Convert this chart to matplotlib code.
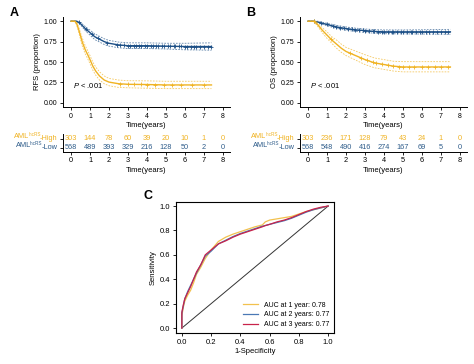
import matplotlib
matplotlib.use('Agg')
import matplotlib.pyplot as plt
import numpy as np

plt.rcParams['font.family'] = ['Liberation Sans', 'DejaVu Sans']
plt.rcParams['mathtext.fontset'] = 'custom'
plt.rcParams['mathtext.rm'] = 'Liberation Sans'
plt.rcParams['mathtext.it'] = 'Liberation Sans:italic'

YELLOW = '#F0B323'
BLUE = '#1C4F86'
TBLUE = '#2E5C8A'

# --- A: RFS ---
t_rfs_high = [0, 0.2, 0.3, 0.4, 0.5, 0.6, 0.75, 0.9, 1.0, 1.15, 1.3, 1.5, 1.75, 2.0, 2.5, 3.0, 4.0, 5.0, 6.0, 7.4]
s_rfs_high = [1.0, 1.0, 0.97, 0.9, 0.82, 0.74, 0.65, 0.58, 0.53, 0.45, 0.39, 0.33, 0.28, 0.255, 0.235, 0.228, 0.225, 0.22, 0.22, 0.22]
hi_rfs_high = [1.0, 1.0, 0.99, 0.93, 0.86, 0.79, 0.70, 0.63, 0.58, 0.50, 0.44, 0.38, 0.33, 0.30, 0.28, 0.272, 0.27, 0.265, 0.265, 0.265]
lo_rfs_high = [1.0, 1.0, 0.95, 0.87, 0.78, 0.69, 0.60, 0.53, 0.48, 0.40, 0.34, 0.28, 0.235, 0.21, 0.19, 0.185, 0.18, 0.175, 0.175, 0.175]
cens_rfs_high = [2.6, 3.0, 3.3, 3.7, 4.0, 4.4, 4.9, 5.3, 5.8, 6.4, 7.0]

t_rfs_low = [0, 0.3, 0.5, 0.75, 1.0, 1.25, 1.5, 1.75, 2.0, 2.5, 3.0, 4.0, 5.0, 6.0, 7.4]
s_rfs_low = [1.0, 1.0, 0.97, 0.91, 0.86, 0.81, 0.78, 0.75, 0.73, 0.71, 0.70, 0.70, 0.695, 0.69, 0.69]
hi_rfs_low = [1.0, 1.0, 0.985, 0.935, 0.89, 0.845, 0.815, 0.785, 0.765, 0.745, 0.735, 0.735, 0.73, 0.73, 0.735]
lo_rfs_low = [1.0, 1.0, 0.955, 0.885, 0.83, 0.775, 0.745, 0.715, 0.695, 0.675, 0.665, 0.665, 0.66, 0.65, 0.645]
cens_rfs_low = [0.4, 0.8, 1.1, 1.4, 1.9, 2.4, 2.6, 2.8, 3.0, 3.1, 3.3, 3.4, 3.6, 3.7, 3.9, 4.0, 4.2, 4.3, 4.5,
                4.6, 4.8, 4.9, 5.1, 5.2, 5.4, 5.5, 5.7, 5.8, 6.0, 6.1, 6.3, 6.5, 6.6, 6.8, 7.0, 7.2, 7.4]

risk_rfs_high = [303, 144, 78, 60, 39, 20, 10, 1, 0]
risk_rfs_low = [568, 489, 393, 329, 216, 128, 50, 2, 0]

# --- B: OS ---
t_os_high = [0, 0.3, 0.5, 0.75, 1.0, 1.25, 1.5, 1.75, 2.0, 2.5, 3.0, 3.5, 4.0, 4.5, 5.0, 6.0, 7.5]
s_os_high = [1.0, 1.0, 0.96, 0.89, 0.83, 0.77, 0.72, 0.67, 0.63, 0.58, 0.53, 0.49, 0.47, 0.45, 0.44, 0.44, 0.44]
hi_os_high = [1.0, 1.0, 0.98, 0.92, 0.87, 0.81, 0.77, 0.72, 0.68, 0.635, 0.59, 0.55, 0.53, 0.51, 0.505, 0.505, 0.505]
lo_os_high = [1.0, 1.0, 0.94, 0.86, 0.79, 0.73, 0.67, 0.62, 0.58, 0.525, 0.47, 0.43, 0.41, 0.39, 0.38, 0.38, 0.38]
cens_os_high = [0.3, 1.2, 2.2, 2.8, 3.1, 3.4, 3.6, 3.9, 4.2, 4.5, 4.8, 5.0, 5.3, 5.6, 6.0, 6.3, 6.7, 7.0, 7.4]

t_os_low = [0, 0.3, 0.5, 1.0, 1.5, 2.0, 2.5, 3.0, 3.5, 4.0, 5.0, 6.0, 7.5]
s_os_low = [1.0, 1.0, 0.99, 0.96, 0.93, 0.91, 0.895, 0.885, 0.875, 0.87, 0.87, 0.87, 0.87]
hi_os_low = [1.0, 1.0, 1.0, 0.975, 0.95, 0.93, 0.915, 0.905, 0.897, 0.893, 0.893, 0.895, 0.9]
lo_os_low = [1.0, 1.0, 0.98, 0.945, 0.91, 0.89, 0.875, 0.863, 0.853, 0.847, 0.845, 0.843, 0.84]
cens_os_low = [0.3, 0.7, 1.0, 1.3, 1.5, 1.7, 1.9, 2.1, 2.3, 2.5, 2.7, 2.9, 3.0, 3.2, 3.4, 3.5, 3.7, 3.9, 4.0,
               4.2, 4.4, 4.5, 4.7, 4.9, 5.0, 5.2, 5.4, 5.5, 5.7, 5.9, 6.0, 6.2, 6.4, 6.6, 6.8, 7.0, 7.2, 7.4]

risk_os_high = [303, 236, 171, 128, 79, 43, 24, 1, 0]
risk_os_low = [568, 548, 490, 416, 274, 167, 69, 5, 0]

risk_times = [0, 1, 2, 3, 4, 5, 6, 7, 8]
group_names = ['-Low', '-High']

# --- C: time-dependent ROC ---
fpr = [0, 0.0, 0.01, 0.02, 0.04, 0.06, 0.08, 0.1, 0.13, 0.16, 0.2, 0.25, 0.3, 0.35, 0.4, 0.45, 0.5,
       0.55, 0.57, 0.6, 0.65, 0.7, 0.75, 0.8, 0.85, 0.9, 0.95, 1.0]
tpr_1y = [0, 0.1, 0.17, 0.22, 0.27, 0.31, 0.37, 0.44, 0.5, 0.57, 0.64, 0.71, 0.745, 0.77, 0.79, 0.81, 0.83,
          0.845, 0.87, 0.885, 0.895, 0.905, 0.915, 0.935, 0.955, 0.97, 0.985, 1.0]
tpr_2y = [0, 0.12, 0.18, 0.24, 0.3, 0.35, 0.4, 0.45, 0.52, 0.59, 0.63, 0.69, 0.72, 0.75, 0.775, 0.795, 0.815,
          0.835, 0.84, 0.85, 0.865, 0.88, 0.9, 0.925, 0.95, 0.97, 0.985, 1.0]
tpr_3y = [0, 0.13, 0.19, 0.24, 0.29, 0.34, 0.4, 0.46, 0.52, 0.6, 0.64, 0.69, 0.715, 0.745, 0.77, 0.79, 0.81,
          0.83, 0.84, 0.85, 0.87, 0.885, 0.905, 0.93, 0.955, 0.975, 0.99, 1.0]
roc_labels = ['AUC at 1 year: 0.78', 'AUC at 2 years: 0.77', 'AUC at 3 years: 0.77']
roc_colors = ['#F2C14E', '#4A78B5', '#C8234A']

fig = plt.figure(figsize=(4.74, 3.64), dpi=100)


def km_panel(left, right, letter, ylabel, curves):
    ax = fig.add_axes([left, 0.706, right - left, 0.247])
    for t, s, hi, lo, cens, col in curves:
        ax.plot(t, hi, color=col, lw=0.6, ls=(0, (2, 1.5)), alpha=0.7)
        ax.plot(t, lo, color=col, lw=0.6, ls=(0, (2, 1.5)), alpha=0.7)
        ax.plot(t, s, color=col, lw=1.0)
        ax.plot(cens, np.interp(cens, t, s), '+', color=col, ms=3, mew=0.6)
    ax.set_xlim(-0.42, 8.37)
    ax.set_ylim(-0.05, 1.05)
    ax.set_xticks(range(9))
    ax.set_yticks([0, 0.25, 0.5, 0.75, 1.0])
    ax.set_yticklabels(['0.00', '0.25', '0.50', '0.75', '1.00'])
    ax.tick_params(labelsize=5, length=2, width=0.6, pad=2)
    for s in ['top', 'right']:
        ax.spines[s].set_visible(False)
    for s in ['left', 'bottom']:
        ax.spines[s].set_linewidth(0.7)
    ax.set_ylabel(ylabel, fontsize=5.5, labelpad=2)
    ax.set_xlabel('Time(years)', fontsize=5.5, labelpad=1.5)
    ax.text(0.1, 0.18, r'$P$ < .001', fontsize=5.5)
    fig.text(left - 0.113, 0.965, letter, fontsize=9, fontweight='bold', va='center')
    return ax


def risk_table(left, right, high, low):
    ax = fig.add_axes([left, 0.582, right - left, 0.05])
    for i, (h, l) in enumerate(zip(high, low)):
        ax.text(risk_times[i], 1, str(h), color=YELLOW, fontsize=5.3, ha='center', va='center')
        ax.text(risk_times[i], 0, str(l), color=TBLUE, fontsize=5.3, ha='center', va='center')
    ax.set_xlim(-0.42, 8.37)
    ax.set_ylim(-0.45, 1.5)
    ax.set_xticks(range(9))
    ax.set_yticks([0, 1])
    ax.set_yticklabels([])
    # group labels: "AML" + small raised "lncRS" + "-High"/"-Low", right-aligned left of the spine
    for yv, name, col in zip([0, 1], group_names, [TBLUE, YELLOW]):
        t1 = ax.annotate(name, xy=(0, yv), xycoords=('axes fraction', 'data'), xytext=(-4, 0),
                         textcoords='offset points', ha='right', va='center', fontsize=5.3, color=col)
        t2 = ax.annotate('lncRS', xy=(0, 0.5), xycoords=t1, xytext=(0.8, 1.2),
                         textcoords='offset points', ha='right', va='bottom', fontsize=3.3, color=col)
        ax.annotate('AML', xy=(0, 0.5), xycoords=t2, xytext=(0.6, -1.2),
                    textcoords='offset points', ha='right', va='center', fontsize=5.3, color=col)
    ax.tick_params(labelsize=5.3, length=2, width=0.6, pad=1.5)
    for s in ['top', 'right']:
        ax.spines[s].set_visible(False)
    for s in ['left', 'bottom']:
        ax.spines[s].set_linewidth(0.7)
    ax.set_xlabel('Time(years)', fontsize=5.5, labelpad=2)


km_panel(0.133, 0.485, 'A', 'RFS (proportion)', [
    (t_rfs_low, s_rfs_low, hi_rfs_low, lo_rfs_low, cens_rfs_low, BLUE),
    (t_rfs_high, s_rfs_high, hi_rfs_high, lo_rfs_high, cens_rfs_high, YELLOW),
])
risk_table(0.133, 0.485, risk_rfs_high, risk_rfs_low)

km_panel(0.633, 0.985, 'B', 'OS (proportion)', [
    (t_os_low, s_os_low, hi_os_low, lo_os_low, cens_os_low, BLUE),
    (t_os_high, s_os_high, hi_os_high, lo_os_high, cens_os_high, YELLOW),
])
risk_table(0.633, 0.985, risk_os_high, risk_os_low)

# ROC panel
axc = fig.add_axes([0.371, 0.085, 0.334, 0.36])
axc.plot([0, 1], [0, 1], color='#333333', lw=0.7)
for tpr, lab, col in zip([tpr_1y, tpr_2y, tpr_3y], roc_labels, roc_colors):
    axc.plot(fpr, tpr, color=col, lw=0.9, label=lab)
axc.set_xlim(-0.041, 1.041)
axc.set_ylim(-0.041, 1.033)
axc.set_xticks([0, 0.2, 0.4, 0.6, 0.8, 1.0])
axc.set_yticks([0, 0.2, 0.4, 0.6, 0.8, 1.0])
axc.tick_params(labelsize=5.5, length=2, width=0.6, pad=2)
for s in axc.spines.values():
    s.set_linewidth(0.8)
axc.set_xlabel('1-Specificity', fontsize=5.5, labelpad=2)
axc.set_ylabel('Sensitivity', fontsize=5.5, labelpad=2)
axc.legend(loc='lower right', fontsize=5, frameon=False, handlelength=2.2, labelspacing=0.4,
           borderaxespad=0.3)
fig.text(0.302, 0.462, 'C', fontsize=9, fontweight='bold', va='center')

plt.savefig('out.png', dpi=100)
